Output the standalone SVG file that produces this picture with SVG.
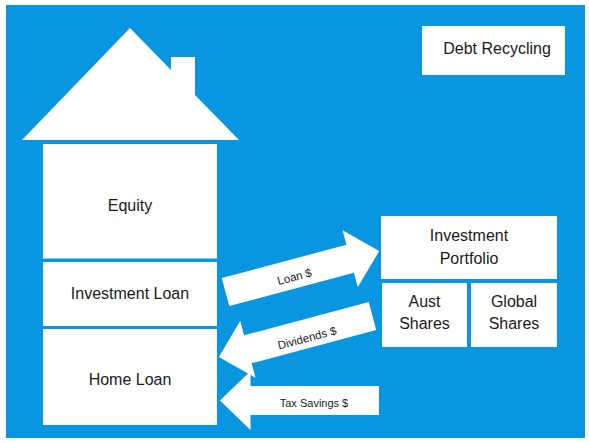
<svg xmlns="http://www.w3.org/2000/svg" width="589" height="443" viewBox="0 0 589 443">
<style>
.bg{fill:#ffffff}
.panel{fill:#0996e0}
.box{fill:#ffffff}
.t{font-family:"Liberation Sans",Arial,sans-serif;font-size:16px;fill:#1a1a1a;text-anchor:middle}
.s{font-family:"Liberation Sans",Arial,sans-serif;font-size:11.5px;fill:#1a1a1a;text-anchor:middle}
.arrow{fill:#ffffff}
</style>
<defs>
<polygon id="arr" points="0,-14.5 129,-14.5 129,-29.5 159,0 129,29.5 129,14.5 0,14.5"/>
</defs>
<rect class="bg" x="0" y="0" width="589" height="443"/>
<rect class="panel" x="6" y="5" width="579" height="433"/>
<g id="roof">
<polygon class="box" points="22,140 130,28 171,70 171,57 195,57 195,95 239,140"/>
</g>
<g id="equity">
<rect class="box" x="43" y="144" width="174" height="114.5"/>
<text class="t" x="130" y="210.5">Equity</text>
</g>
<g id="investment-loan">
<rect class="box" x="43" y="262" width="174" height="64"/>
<text class="t" x="130" y="299">Investment Loan</text>
</g>
<g id="home-loan">
<rect class="box" x="43" y="329" width="174" height="96"/>
<text class="t" x="130" y="385">Home Loan</text>
</g>
<g id="debt-recycling">
<rect class="box" x="422" y="26" width="143" height="49"/>
<text class="t" x="497" y="54">Debt Recycling</text>
</g>
<g id="investment-portfolio">
<rect class="box" x="381" y="216" width="176" height="63"/>
<text class="t" x="469" y="241">Investment</text>
<text class="t" x="469" y="264">Portfolio</text>
</g>
<g id="aust-shares">
<rect class="box" x="382" y="283" width="85" height="64"/>
<text class="t" x="424.5" y="307">Aust</text>
<text class="t" x="424.5" y="329">Shares</text>
</g>
<g id="global-shares">
<rect class="box" x="471" y="283" width="86" height="64"/>
<text class="t" x="514" y="307">Global</text>
<text class="t" x="514" y="329">Shares</text>
</g>
<g id="connectors">
<use href="#arr" class="arrow" transform="translate(225.5,292) rotate(-14.9)"/>
<text class="s" transform="translate(294.5,276.7) rotate(-14.9)" y="4">Loan $</text>
<use href="#arr" class="arrow" transform="translate(372.5,316) rotate(165.05)"/>
<text class="s" transform="translate(307,338) rotate(-14.95)" y="4">Dividends $</text>
<polygon class="arrow" points="379,386 250.5,386 250.5,371 220,400.5 250.5,430 250.5,415 379,415"/>
<text class="s" x="314" y="406.5" style="font-size:11px">Tax Savings $</text>
</g>
</svg>
